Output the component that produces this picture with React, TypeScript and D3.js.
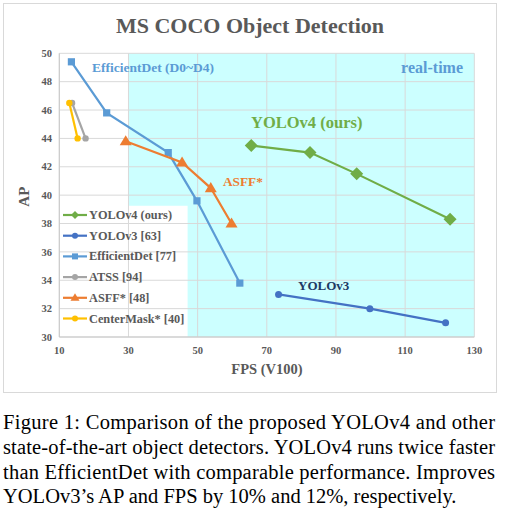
import React from "react";
import * as d3 from "d3";

type Pt = [number, number];

const yolov4: Pt[] = [[65.5, 43.5], [82.5, 43.0], [96, 41.5], [123, 38.3]];
const yolov3: Pt[] = [[73.4, 33.0], [99.8, 32.0], [121.7, 31.0]];
const efficientDet: Pt[] = [[13.5, 49.4], [23.7, 45.8], [41.5, 43.0], [49.8, 39.6], [62.2, 33.8]];
const atss: Pt[] = [[13.7, 46.5], [17.6, 44.0]];
const asff: Pt[] = [[29.2, 43.8], [45.5, 42.3], [53.8, 40.5], [59.8, 38.0]];
const centerMask: Pt[] = [[12.9, 46.5], [15.3, 44.0]];

const xTicks = [10, 30, 50, 70, 90, 110, 130];
const yTicks = [30, 32, 34, 36, 38, 40, 42, 44, 46, 48, 50];

const legendNames = ["YOLOv4 (ours)", "YOLOv3 [63]", "EfficientDet [77]", "ATSS [94]", "ASFF* [48]", "CenterMask* [40]"];

// real-time shaded region (FPS >= 30), with notch for the legend
const realtimeFps = 30;
const notchFps = 47.1;
const notchAp = 39.25;

const captionLines = [
  "Figure 1: Comparison of the proposed YOLOv4 and other",
  "state-of-the-art object detectors. YOLOv4 runs twice faster",
  "than EfficientDet with comparable performance. Improves",
  "YOLOv3\u2019s AP and FPS by 10% and 12%, respectively.",
];

const GRAY = "#595959";
const SERIF = '"Liberation Serif", "DejaVu Serif", serif';

type Series = { name: string; data: Pt[]; color: string; marker: string; size: number };

const series: Series[] = [
  { name: legendNames[0], data: yolov4, color: "#70AD47", marker: "diamond", size: 6.5 },
  { name: legendNames[1], data: yolov3, color: "#4472C4", marker: "circle", size: 3.5 },
  { name: legendNames[2], data: efficientDet, color: "#5B9BD5", marker: "square", size: 3.6 },
  { name: legendNames[3], data: atss, color: "#A5A5A5", marker: "circle", size: 3.2 },
  { name: legendNames[4], data: asff, color: "#ED7D31", marker: "triangle", size: 6 },
  { name: legendNames[5], data: centerMask, color: "#FFC000", marker: "circle", size: 3.2 },
];

function Marker({ kind, x, y, s, color }: { kind: string; x: number; y: number; s: number; color: string }) {
  if (kind === "circle") return <circle cx={x} cy={y} r={s} fill={color} />;
  if (kind === "square") return <rect x={x - s} y={y - s} width={2 * s} height={2 * s} fill={color} />;
  if (kind === "diamond")
    return <path d={`M${x},${y - s}L${x + s},${y}L${x},${y + s}L${x - s},${y}Z`} fill={color} />;
  const h = s * 1.7;
  return <path d={`M${x},${y - h * 0.6}L${x + s},${y + h * 0.4}L${x - s},${y + h * 0.4}Z`} fill={color} />;
}

export default function App() {
  const x = d3.scaleLinear().domain([10, 130]).range([59.3, 474.3]);
  const y = d3.scaleLinear().domain([30, 50]).range([337, 53.3]);
  const line = d3.line<Pt>().x((d) => x(d[0])).y((d) => y(d[1]));

  const cyanPath = d3.line<Pt>().x((d) => x(d[0])).y((d) => y(d[1]))([
    [realtimeFps, 50],
    [130, 50],
    [130, 30],
    [notchFps, 30],
    [notchFps, notchAp],
    [realtimeFps, notchAp],
  ]) + "Z";

  const legendY0 = 215;
  const legendStep = 20.7;
  const tf = { fontFamily: SERIF };

  return (
    <div style={{ position: "absolute", left: 0, top: 0 }}>
      <svg width={519} height={513} style={{ display: "block", background: "#fff", fontFamily: SERIF }}>
        <rect x={3.5} y={3.5} width={493} height={389} fill="#fff" stroke="#D9D9D9" />
        <text style={tf} x={250} y={33} textAnchor="middle" fontSize={22} fontWeight="bold" fill={GRAY}>
          MS COCO Object Detection
        </text>

        <path d={cyanPath} fill="#CCFFFF" />

        {yTicks.map((t) => (
          <line key={"gy" + t} x1={x(10)} x2={x(130)} y1={y(t)} y2={y(t)} stroke="#D9D9D9" strokeWidth={1} />
        ))}
        {xTicks.map((t) => (
          <line key={"gx" + t} x1={x(t)} x2={x(t)} y1={y(30)} y2={y(50)} stroke="#D9D9D9" strokeWidth={1} />
        ))}
        <line x1={x(10)} x2={x(10)} y1={y(30)} y2={y(50)} stroke="#C8C8C8" />
        <line x1={x(10)} x2={x(130)} y1={y(30)} y2={y(30)} stroke="#C8C8C8" />

        {yTicks.map((t) => (
          <text style={tf} key={"ty" + t} x={52} y={y(t)} dy="0.35em" textAnchor="end" fontSize={10.5} fontWeight="bold" fill={GRAY}>
            {t}
          </text>
        ))}
        {xTicks.map((t) => (
          <text style={tf} key={"tx" + t} x={x(t)} y={354} textAnchor="middle" fontSize={10.5} fontWeight="bold" fill={GRAY}>
            {t}
          </text>
        ))}
        <text style={tf} x={267} y={374} textAnchor="middle" fontSize={14.5} fontWeight="bold" fill={GRAY}>
          FPS (V100)
        </text>
        <text style={tf} transform="translate(28.5,196.7) rotate(-90)" textAnchor="middle" fontSize={15} fontWeight="bold" fill={GRAY}>
          AP
        </text>

        {series.map((s) => (
          <g key={s.name}>
            <path d={line(s.data) || ""} fill="none" stroke={s.color} strokeWidth={2.2} />
            {s.data.map((d, i) => (
              <Marker key={i} kind={s.marker} x={x(d[0])} y={y(d[1])} s={s.size} color={s.color} />
            ))}
          </g>
        ))}

        <text style={tf} x={92} y={72} fontSize={13.5} fontWeight="bold" fill="#5B9BD5">EfficientDet (D0~D4)</text>
        <text style={tf} x={463} y={73} textAnchor="end" fontSize={16} fontWeight="bold" fill="#5B9BD5">real-time</text>
        <text style={tf} x={251} y={128} fontSize={16.5} fontWeight="bold" fill="#70AD47">YOLOv4 (ours)</text>
        <text style={tf} x={223} y={186} fontSize={13.3} fontWeight="bold" fill="#ED7D31">ASFF*</text>
        <text style={tf} x={298} y={290} fontSize={13} fontWeight="bold" fill="#203864">YOLOv3</text>

        {series.map((s, i) => {
          const cy = legendY0 + i * legendStep;
          return (
            <g key={"lg" + s.name}>
              <line x1={63} x2={87} y1={cy} y2={cy} stroke={s.color} strokeWidth={2.2} />
              <Marker kind={s.marker} x={75} y={cy} s={s.marker === "triangle" ? 4.5 : s.marker === "diamond" ? 4 : 3} color={s.color} />
              <text style={tf} x={89} y={cy} dy="0.33em" fontSize={12.3} fontWeight="bold" fill={GRAY}>{s.name}</text>
            </g>
          );
        })}

        {captionLines.map((l, i) => (
          <text
            style={tf}
            key={"c" + i}
            x={3}
            y={429 + i * 24.8}
            fontSize={20.5}
            fill="#000"
            {...(i < 3 ? { textLength: 492, lengthAdjust: "spacing" } : {})}
          >
            {l}
          </text>
        ))}
      </svg>
    </div>
  );
}
